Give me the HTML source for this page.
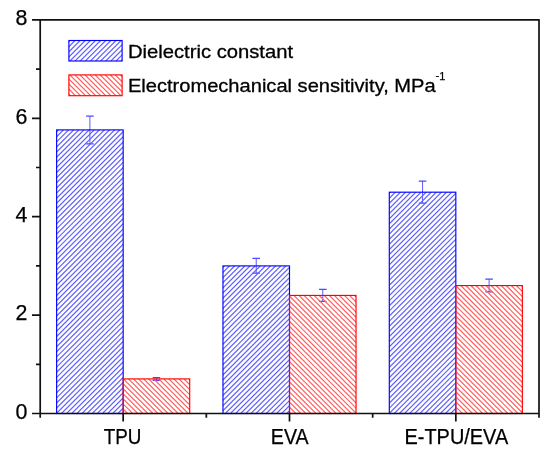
<!DOCTYPE html>
<html><head><meta charset="utf-8">
<style>
html,body{margin:0;padding:0;background:#fff;}
body{width:550px;height:454px;overflow:hidden;}
svg{display:block;}
text{font-family:"Liberation Sans",sans-serif;fill:#000;}
</style></head>
<body>
<svg width="550" height="454" viewBox="0 0 550 454">
<defs>
<clipPath id="c0"><rect x="56.63" y="129.91" width="66.53" height="283.59"/></clipPath><clipPath id="c1"><rect x="123.17" y="378.91" width="66.53" height="34.59"/></clipPath><clipPath id="c2"><rect x="222.97" y="265.90" width="66.53" height="147.60"/></clipPath><clipPath id="c3"><rect x="289.50" y="295.42" width="66.53" height="118.08"/></clipPath><clipPath id="c4"><rect x="389.30" y="192.20" width="66.53" height="221.30"/></clipPath><clipPath id="c5"><rect x="455.83" y="285.58" width="66.53" height="127.92"/></clipPath><clipPath id="c6"><rect x="68.90" y="40.50" width="53.20" height="20.50"/></clipPath><clipPath id="c7"><rect x="68.90" y="74.90" width="53.20" height="20.80"/></clipPath>
</defs>
<rect width="550" height="454" fill="#fff"/>
<path d="M89.90,116.0V143.8M156.43,377.6V380.4M256.23,258.3V273.0M322.77,289.4V301.4M422.57,181.0V203.0M489.10,279.1V291.8" stroke="#5c5cff" stroke-width="1.0" fill="none"/><path d="M86.10,116.0H93.70M86.10,143.8H93.70M152.63,377.6H160.23M152.63,380.4H160.23M252.43,258.3H260.03M252.43,273.0H260.03M318.97,289.4H326.57M318.97,301.4H326.57M418.77,181.0H426.37M418.77,203.0H426.37M485.30,279.1H492.90M485.30,291.8H492.90" stroke="#4a4aff" stroke-width="1.25" fill="none"/>
<path clip-path="url(#c0)" d="M-237.50,415.50L50.09,127.91M-232.38,415.50L55.21,127.91M-227.26,415.50L60.33,127.91M-222.14,415.50L65.45,127.91M-217.02,415.50L70.57,127.91M-211.90,415.50L75.69,127.91M-206.78,415.50L80.81,127.91M-201.66,415.50L85.93,127.91M-196.54,415.50L91.05,127.91M-191.42,415.50L96.17,127.91M-186.30,415.50L101.29,127.91M-181.18,415.50L106.41,127.91M-176.06,415.50L111.53,127.91M-170.94,415.50L116.65,127.91M-165.82,415.50L121.77,127.91M-160.70,415.50L126.89,127.91M-155.58,415.50L132.01,127.91M-150.46,415.50L137.13,127.91M-145.34,415.50L142.25,127.91M-140.22,415.50L147.37,127.91M-135.10,415.50L152.49,127.91M-129.98,415.50L157.61,127.91M-124.86,415.50L162.73,127.91M-119.74,415.50L167.85,127.91M-114.62,415.50L172.97,127.91M-109.50,415.50L178.09,127.91M-104.38,415.50L183.21,127.91M-99.26,415.50L188.33,127.91M-94.14,415.50L193.45,127.91M-89.02,415.50L198.57,127.91M-83.90,415.50L203.69,127.91M-78.78,415.50L208.81,127.91M-73.66,415.50L213.93,127.91M-68.54,415.50L219.05,127.91M-63.42,415.50L224.17,127.91M-58.30,415.50L229.29,127.91M-53.18,415.50L234.41,127.91M-48.06,415.50L239.53,127.91M-42.94,415.50L244.65,127.91M-37.82,415.50L249.77,127.91M-32.70,415.50L254.89,127.91M-27.58,415.50L260.01,127.91M-22.46,415.50L265.13,127.91M-17.34,415.50L270.25,127.91M-12.22,415.50L275.37,127.91M-7.10,415.50L280.49,127.91M-1.98,415.50L285.61,127.91M3.14,415.50L290.73,127.91M8.26,415.50L295.85,127.91M13.38,415.50L300.97,127.91M18.50,415.50L306.09,127.91M23.62,415.50L311.21,127.91M28.74,415.50L316.33,127.91M33.86,415.50L321.45,127.91M38.98,415.50L326.57,127.91M44.10,415.50L331.69,127.91M49.22,415.50L336.81,127.91M54.34,415.50L341.93,127.91M59.46,415.50L347.05,127.91M64.58,415.50L352.17,127.91M69.70,415.50L357.29,127.91M74.82,415.50L362.41,127.91M79.94,415.50L367.53,127.91M85.06,415.50L372.65,127.91M90.18,415.50L377.77,127.91M95.30,415.50L382.89,127.91M100.42,415.50L388.01,127.91M105.54,415.50L393.13,127.91M110.66,415.50L398.25,127.91M115.78,415.50L403.37,127.91M120.90,415.50L408.49,127.91M126.02,415.50L413.61,127.91M131.14,415.50L418.73,127.91" stroke="#6060ff" stroke-width="1.2" fill="none"/><rect x="56.63" y="129.91" width="66.53" height="283.59" fill="none" stroke="#0000ff" stroke-width="1.15"/><path clip-path="url(#c1)" d="M75.96,376.91L114.55,415.50M81.01,376.91L119.60,415.50M86.06,376.91L124.65,415.50M91.11,376.91L129.70,415.50M96.16,376.91L134.75,415.50M101.21,376.91L139.80,415.50M106.26,376.91L144.85,415.50M111.31,376.91L149.90,415.50M116.36,376.91L154.95,415.50M121.41,376.91L160.00,415.50M126.46,376.91L165.05,415.50M131.51,376.91L170.10,415.50M136.56,376.91L175.15,415.50M141.61,376.91L180.20,415.50M146.66,376.91L185.25,415.50M151.71,376.91L190.30,415.50M156.76,376.91L195.35,415.50M161.81,376.91L200.40,415.50M166.86,376.91L205.45,415.50M171.91,376.91L210.50,415.50M176.96,376.91L215.55,415.50M182.01,376.91L220.60,415.50M187.06,376.91L225.65,415.50M192.11,376.91L230.70,415.50" stroke="#ff6060" stroke-width="1.2" fill="none"/><rect x="123.17" y="378.91" width="66.53" height="34.59" fill="none" stroke="#ff0000" stroke-width="1.15"/><path clip-path="url(#c2)" d="M64.58,415.50L216.18,263.90M69.70,415.50L221.30,263.90M74.82,415.50L226.42,263.90M79.94,415.50L231.54,263.90M85.06,415.50L236.66,263.90M90.18,415.50L241.78,263.90M95.30,415.50L246.90,263.90M100.42,415.50L252.02,263.90M105.54,415.50L257.14,263.90M110.66,415.50L262.26,263.90M115.78,415.50L267.38,263.90M120.90,415.50L272.50,263.90M126.02,415.50L277.62,263.90M131.14,415.50L282.74,263.90M136.26,415.50L287.86,263.90M141.38,415.50L292.98,263.90M146.50,415.50L298.10,263.90M151.62,415.50L303.22,263.90M156.74,415.50L308.34,263.90M161.86,415.50L313.46,263.90M166.98,415.50L318.58,263.90M172.10,415.50L323.70,263.90M177.22,415.50L328.82,263.90M182.34,415.50L333.94,263.90M187.46,415.50L339.06,263.90M192.58,415.50L344.18,263.90M197.70,415.50L349.30,263.90M202.82,415.50L354.42,263.90M207.94,415.50L359.54,263.90M213.06,415.50L364.66,263.90M218.18,415.50L369.78,263.90M223.30,415.50L374.90,263.90M228.42,415.50L380.02,263.90M233.54,415.50L385.14,263.90M238.66,415.50L390.26,263.90M243.78,415.50L395.38,263.90M248.90,415.50L400.50,263.90M254.02,415.50L405.62,263.90M259.14,415.50L410.74,263.90M264.26,415.50L415.86,263.90M269.38,415.50L420.98,263.90M274.50,415.50L426.10,263.90M279.62,415.50L431.22,263.90M284.74,415.50L436.34,263.90M289.86,415.50L441.46,263.90M294.98,415.50L446.58,263.90" stroke="#6060ff" stroke-width="1.2" fill="none"/><rect x="222.97" y="265.90" width="66.53" height="147.60" fill="none" stroke="#0000ff" stroke-width="1.15"/><path clip-path="url(#c3)" d="M160.62,293.42L282.70,415.50M165.67,293.42L287.75,415.50M170.72,293.42L292.80,415.50M175.77,293.42L297.85,415.50M180.82,293.42L302.90,415.50M185.87,293.42L307.95,415.50M190.92,293.42L313.00,415.50M195.97,293.42L318.05,415.50M201.02,293.42L323.10,415.50M206.07,293.42L328.15,415.50M211.12,293.42L333.20,415.50M216.17,293.42L338.25,415.50M221.22,293.42L343.30,415.50M226.27,293.42L348.35,415.50M231.32,293.42L353.40,415.50M236.37,293.42L358.45,415.50M241.42,293.42L363.50,415.50M246.47,293.42L368.55,415.50M251.52,293.42L373.60,415.50M256.57,293.42L378.65,415.50M261.62,293.42L383.70,415.50M266.67,293.42L388.75,415.50M271.72,293.42L393.80,415.50M276.77,293.42L398.85,415.50M281.82,293.42L403.90,415.50M286.87,293.42L408.95,415.50M291.92,293.42L414.00,415.50M296.97,293.42L419.05,415.50M302.02,293.42L424.10,415.50M307.07,293.42L429.15,415.50M312.12,293.42L434.20,415.50M317.17,293.42L439.25,415.50M322.22,293.42L444.30,415.50M327.27,293.42L449.35,415.50M332.32,293.42L454.40,415.50M337.37,293.42L459.45,415.50M342.42,293.42L464.50,415.50M347.47,293.42L469.55,415.50M352.52,293.42L474.60,415.50M357.57,293.42L479.65,415.50M362.62,293.42L484.70,415.50" stroke="#ff6060" stroke-width="1.2" fill="none"/><rect x="289.50" y="295.42" width="66.53" height="118.08" fill="none" stroke="#ff0000" stroke-width="1.15"/><path clip-path="url(#c4)" d="M156.74,415.50L382.04,190.20M161.86,415.50L387.16,190.20M166.98,415.50L392.28,190.20M172.10,415.50L397.40,190.20M177.22,415.50L402.52,190.20M182.34,415.50L407.64,190.20M187.46,415.50L412.76,190.20M192.58,415.50L417.88,190.20M197.70,415.50L423.00,190.20M202.82,415.50L428.12,190.20M207.94,415.50L433.24,190.20M213.06,415.50L438.36,190.20M218.18,415.50L443.48,190.20M223.30,415.50L448.60,190.20M228.42,415.50L453.72,190.20M233.54,415.50L458.84,190.20M238.66,415.50L463.96,190.20M243.78,415.50L469.08,190.20M248.90,415.50L474.20,190.20M254.02,415.50L479.32,190.20M259.14,415.50L484.44,190.20M264.26,415.50L489.56,190.20M269.38,415.50L494.68,190.20M274.50,415.50L499.80,190.20M279.62,415.50L504.92,190.20M284.74,415.50L510.04,190.20M289.86,415.50L515.16,190.20M294.98,415.50L520.28,190.20M300.10,415.50L525.40,190.20M305.22,415.50L530.52,190.20M310.34,415.50L535.64,190.20M315.46,415.50L540.76,190.20M320.58,415.50L545.88,190.20M325.70,415.50L551.00,190.20M330.82,415.50L556.12,190.20M335.94,415.50L561.24,190.20M341.06,415.50L566.36,190.20M346.18,415.50L571.48,190.20M351.30,415.50L576.60,190.20M356.42,415.50L581.72,190.20M361.54,415.50L586.84,190.20M366.66,415.50L591.96,190.20M371.78,415.50L597.08,190.20M376.90,415.50L602.20,190.20M382.02,415.50L607.32,190.20M387.14,415.50L612.44,190.20M392.26,415.50L617.56,190.20M397.38,415.50L622.68,190.20M402.50,415.50L627.80,190.20M407.62,415.50L632.92,190.20M412.74,415.50L638.04,190.20M417.86,415.50L643.16,190.20M422.98,415.50L648.28,190.20M428.10,415.50L653.40,190.20M433.22,415.50L658.52,190.20M438.34,415.50L663.64,190.20M443.46,415.50L668.76,190.20M448.58,415.50L673.88,190.20M453.70,415.50L679.00,190.20M458.82,415.50L684.12,190.20M463.94,415.50L689.24,190.20" stroke="#6060ff" stroke-width="1.2" fill="none"/><rect x="389.30" y="192.20" width="66.53" height="221.30" fill="none" stroke="#0000ff" stroke-width="1.15"/><path clip-path="url(#c5)" d="M317.43,283.58L449.35,415.50M322.48,283.58L454.40,415.50M327.53,283.58L459.45,415.50M332.58,283.58L464.50,415.50M337.63,283.58L469.55,415.50M342.68,283.58L474.60,415.50M347.73,283.58L479.65,415.50M352.78,283.58L484.70,415.50M357.83,283.58L489.75,415.50M362.88,283.58L494.80,415.50M367.93,283.58L499.85,415.50M372.98,283.58L504.90,415.50M378.03,283.58L509.95,415.50M383.08,283.58L515.00,415.50M388.13,283.58L520.05,415.50M393.18,283.58L525.10,415.50M398.23,283.58L530.15,415.50M403.28,283.58L535.20,415.50M408.33,283.58L540.25,415.50M413.38,283.58L545.30,415.50M418.43,283.58L550.35,415.50M423.48,283.58L555.40,415.50M428.53,283.58L560.45,415.50M433.58,283.58L565.50,415.50M438.63,283.58L570.55,415.50M443.68,283.58L575.60,415.50M448.73,283.58L580.65,415.50M453.78,283.58L585.70,415.50M458.83,283.58L590.75,415.50M463.88,283.58L595.80,415.50M468.93,283.58L600.85,415.50M473.98,283.58L605.90,415.50M479.03,283.58L610.95,415.50M484.08,283.58L616.00,415.50M489.13,283.58L621.05,415.50M494.18,283.58L626.10,415.50M499.23,283.58L631.15,415.50M504.28,283.58L636.20,415.50M509.33,283.58L641.25,415.50M514.38,283.58L646.30,415.50M519.43,283.58L651.35,415.50M524.48,283.58L656.40,415.50M529.53,283.58L661.45,415.50" stroke="#ff6060" stroke-width="1.2" fill="none"/><rect x="455.83" y="285.58" width="66.53" height="127.92" fill="none" stroke="#ff0000" stroke-width="1.15"/><path clip-path="url(#c6)" d="M37.20,63.00L61.70,38.50M42.32,63.00L66.82,38.50M47.44,63.00L71.94,38.50M52.56,63.00L77.06,38.50M57.68,63.00L82.18,38.50M62.80,63.00L87.30,38.50M67.92,63.00L92.42,38.50M73.04,63.00L97.54,38.50M78.16,63.00L102.66,38.50M83.28,63.00L107.78,38.50M88.40,63.00L112.90,38.50M93.52,63.00L118.02,38.50M98.64,63.00L123.14,38.50M103.76,63.00L128.26,38.50M108.88,63.00L133.38,38.50M114.00,63.00L138.50,38.50M119.12,63.00L143.62,38.50M124.24,63.00L148.74,38.50" stroke="#6060ff" stroke-width="1.2" fill="none"/><rect x="68.90" y="40.50" width="53.20" height="20.50" fill="none" stroke="#0000ff" stroke-width="1.15"/><path clip-path="url(#c7)" d="M37.55,72.90L62.35,97.70M42.60,72.90L67.40,97.70M47.65,72.90L72.45,97.70M52.70,72.90L77.50,97.70M57.75,72.90L82.55,97.70M62.80,72.90L87.60,97.70M67.85,72.90L92.65,97.70M72.90,72.90L97.70,97.70M77.95,72.90L102.75,97.70M83.00,72.90L107.80,97.70M88.05,72.90L112.85,97.70M93.10,72.90L117.90,97.70M98.15,72.90L122.95,97.70M103.20,72.90L128.00,97.70M108.25,72.90L133.05,97.70M113.30,72.90L138.10,97.70M118.35,72.90L143.15,97.70M123.40,72.90L148.20,97.70M128.45,72.90L153.25,97.70" stroke="#ff6060" stroke-width="1.2" fill="none"/><rect x="68.90" y="74.90" width="53.20" height="20.80" fill="none" stroke="#ff0000" stroke-width="1.15"/>
<path d="M40.2,19.9H539.0V413.5H40.2ZM32,413.50H40.2M32,315.10H40.2M32,216.70H40.2M32,118.30H40.2M32,19.90H40.2M36,364.30H40.2M36,265.90H40.2M36,167.50H40.2M36,69.10H40.2M123.17,413.5V421.5M289.50,413.5V421.5M455.83,413.5V421.5M40.20,413.5V417.7M206.33,413.5V417.7M372.67,413.5V417.7M539.00,413.5V417.7" stroke="#111" stroke-width="1.7" fill="none" stroke-linecap="butt"/>
<g font-size="21.4" text-anchor="end" stroke="#000" stroke-width="0.25"><text x="27.3" y="25.1">8</text><text x="27.3" y="123.5">6</text><text x="27.3" y="221.9">4</text><text x="27.3" y="320.3">2</text><text x="27.3" y="418.7">0</text></g>
<g font-size="21.4" text-anchor="middle" stroke="#000" stroke-width="0.25"><text x="122.55" y="443.8" textLength="37.7" lengthAdjust="spacingAndGlyphs">TPU</text><text x="289.70" y="443.8" textLength="37.8" lengthAdjust="spacingAndGlyphs">EVA</text><text x="456.35" y="443.8" textLength="103.7" lengthAdjust="spacingAndGlyphs">E-TPU/EVA</text></g>
<text x="127.9" y="57.7" font-size="18.6" stroke="#000" stroke-width="0.3" textLength="165.2" lengthAdjust="spacingAndGlyphs">Dielectric constant</text>
<text x="127.9" y="92.3" font-size="18.6" stroke="#000" stroke-width="0.3" textLength="307.8" lengthAdjust="spacingAndGlyphs">Electromechanical sensitivity, MPa</text>
<text x="435.5" y="78.9" font-size="11" stroke="#000" stroke-width="0.25" textLength="3.7" lengthAdjust="spacingAndGlyphs">-</text><text x="439.2" y="79.8" font-size="11" stroke="#000" stroke-width="0.25">1</text>
</svg>
</body></html>
